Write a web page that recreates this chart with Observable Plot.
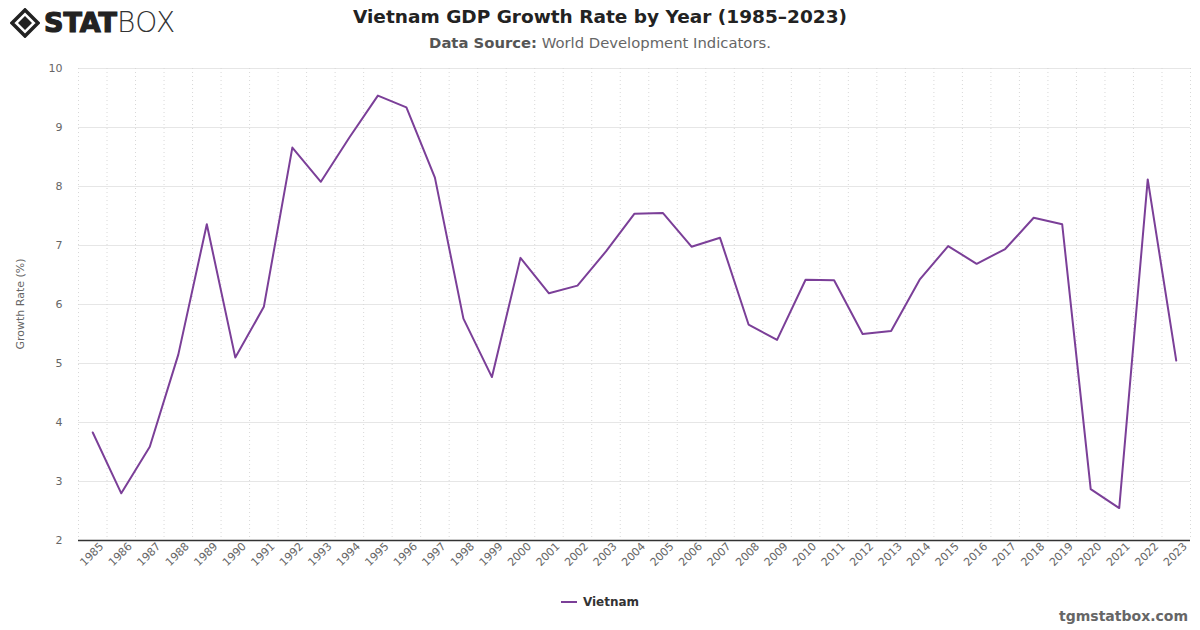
<!DOCTYPE html>
<html>
<head>
<meta charset="utf-8">
<script src="https://cdn.jsdelivr.net/npm/d3@7"></script>
<script src="https://cdn.jsdelivr.net/npm/@observablehq/plot@0.6"></script>
<style>
  html, body { margin: 0; padding: 0; background: #fff; }
  body { width: 1200px; height: 630px; position: relative; overflow: hidden; font-family: "DejaVu Sans", sans-serif; }
  .abs { position: absolute; }
  #title { top: 6px; left: 0; width: 1200px; text-align: center; font-size: 18.5px; font-weight: bold; color: #222; }
  #subtitle { top: 34px; left: 0; width: 1200px; text-align: center; font-size: 14.8px; color: #666; }
  #subtitle b { color: #555; }
  #ylabel { left: 20px; top: 304px; transform: translate(-50%, -50%) rotate(-90deg); font-size: 11px; color: #666; white-space: nowrap; }
  #legend { top: 595px; left: 0; width: 1200px; text-align: center; font-size: 12px; font-weight: bold; color: #333; }
  #legend .sw { display: inline-block; width: 16px; height: 2px; background: #7b3f98; vertical-align: middle; margin-right: 6px; position: relative; top: -1px; }
  #footer { top: 608px; right: 12px; font-size: 14px; font-weight: bold; color: #666; }
  #logo { top: 6px; left: 10px; display: flex; align-items: center; }
  #logo .stat { font-family: "DejaVu Sans", sans-serif; font-weight: bold; font-size: 27px; color: #222; -webkit-text-stroke: 1.2px #222; margin-left: 4px; }
  #logo .box { font-family: "DejaVu Sans", sans-serif; font-weight: 200; font-size: 28px; color: #333; letter-spacing: 0.5px; }
  #chart { top: 55px; left: 0; }
</style>
</head>
<body>
<div id="logo" class="abs">
  <svg width="30" height="30" viewBox="0 0 30 30">
    <polygon points="15,2 28,15 15,28 2,15" fill="none" stroke="#222" stroke-width="3.5"/>
    <polygon points="15,8 22,15 15,22 8,15" fill="#222"/>
  </svg>
  <span class="stat">STAT</span><span class="box">BOX</span>
</div>
<div id="title" class="abs">Vietnam GDP Growth Rate by Year (1985–2023)</div>
<div id="subtitle" class="abs"><b>Data Source:</b> World Development Indicators.</div>
<div id="ylabel" class="abs">Growth Rate (%)</div>
<div id="chart" class="abs"></div>
<div id="legend" class="abs"><span class="sw"></span>Vietnam</div>
<div id="footer" class="abs">tgmstatbox.com</div>
<script>
const years = [1985,1986,1987,1988,1989,1990,1991,1992,1993,1994,1995,1996,1997,1998,1999,2000,2001,2002,2003,2004,2005,2006,2007,2008,2009,2010,2011,2012,2013,2014,2015,2016,2017,2018,2019,2020,2021,2022,2023];
const growth = [3.83,2.80,3.59,5.15,7.36,5.10,5.96,8.66,8.08,8.83,9.54,9.34,8.15,5.76,4.77,6.79,6.19,6.32,6.90,7.54,7.55,6.98,7.13,5.66,5.40,6.42,6.41,5.50,5.55,6.42,6.99,6.69,6.94,7.47,7.36,2.87,2.55,8.12,5.05];
const yTicks = [2,3,4,5,6,7,8,9,10];

const data = years.map((y, i) => ({year: y, value: growth[i]}));
const bounds = [years[0] - 0.5, ...years.map(y => y + 0.5)];

const chart = Plot.plot({
  width: 1200,
  height: 540,
  marginTop: 13,
  marginBottom: 55,
  marginLeft: 78,
  marginRight: 10,
  style: {fontFamily: "DejaVu Sans, sans-serif", fontSize: "11px", color: "#666", background: "transparent"},
  x: {domain: [1984.5, 2023.5]},
  y: {domain: [2, 10]},
  marks: [
    Plot.gridY(yTicks, {stroke: "#e6e6e6", strokeOpacity: 1}),
    Plot.ruleX(bounds, {stroke: "#d8d8d8", strokeDasharray: "1,3"}),
    Plot.axisY(yTicks, {tickSize: 0, tickPadding: 16, label: null, tickFormat: d => String(d), fill: "#666"}),
    Plot.axisX(years, {tickSize: 0, tickRotate: -45, tickPadding: 4, dx: 9, label: null, tickFormat: d => String(d), fill: "#666"}),
    Plot.ruleY([2], {stroke: "#333", strokeWidth: 1.5}),
    Plot.line(data, {x: "year", y: "value", stroke: "#7b3f98", strokeWidth: 2})
  ]
});
document.getElementById("chart").appendChild(chart);
</script>
</body>
</html>
